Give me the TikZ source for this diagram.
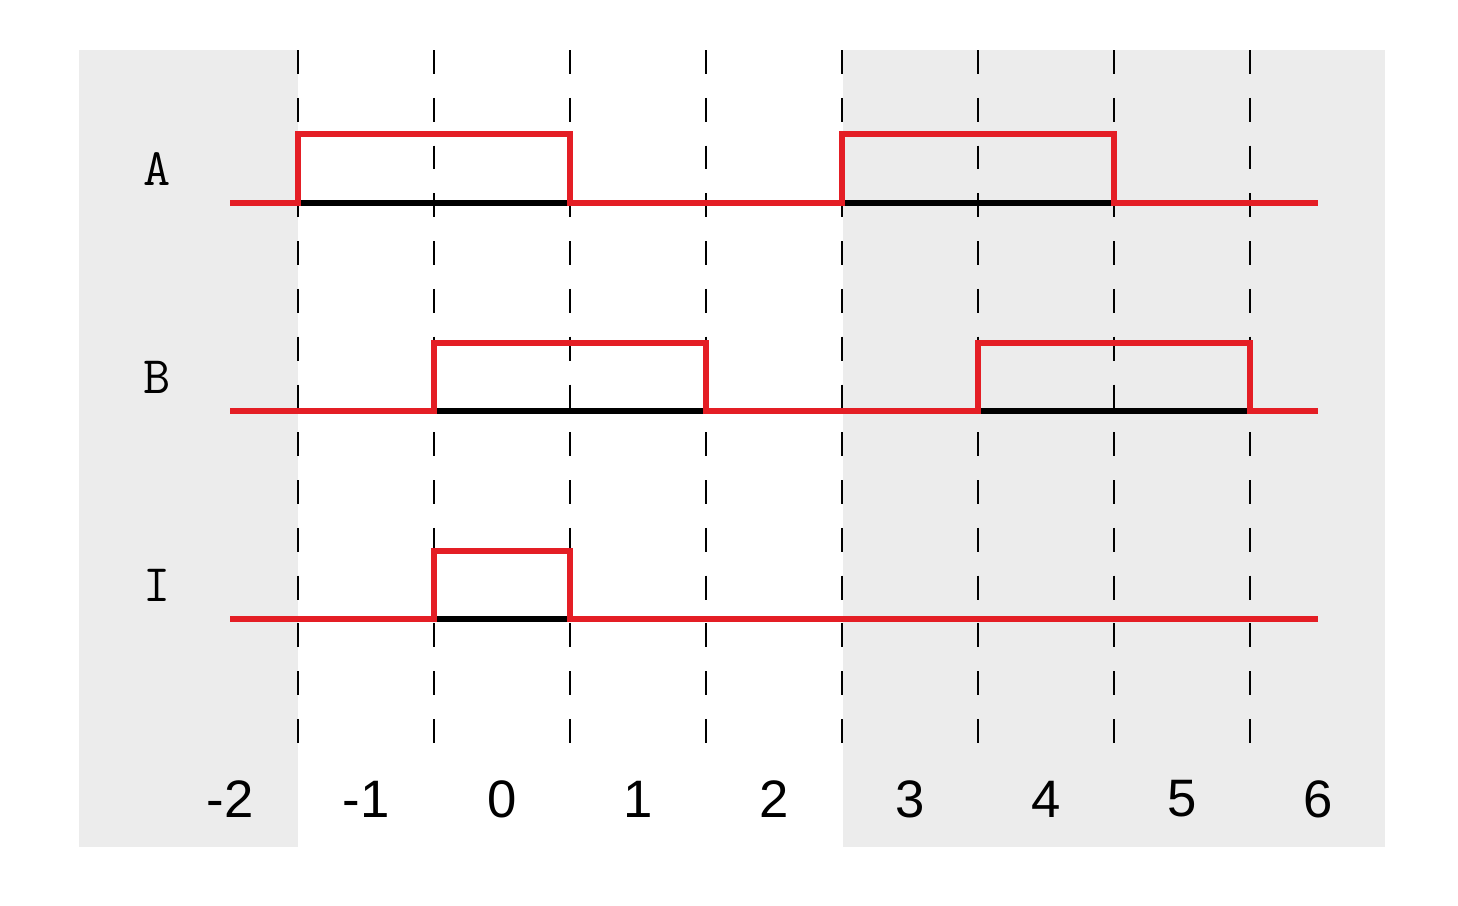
\documentclass[tikz,border=0pt]{standalone}
\usepackage{fontspec}
\setmainfont{Liberation Sans}
\begin{document}
\begin{tikzpicture}[x=0.02cm,y=-0.02cm,
  bg/.style={fill=shade,draw=none},
  grid/.style={black,line width=0.85pt,dash pattern=on 13.6pt off 13.6pt},
  wave/.style={draw=wavered,line width=3.4pt,line join=miter},
  base/.style={black,line width=3pt},
  siglabel/.style={font=\ttfamily\fontsize{30}{30}\selectfont,inner sep=0pt},
  ticklabel/.style={font=\fontsize{30}{30}\selectfont,inner sep=0pt}]
\definecolor{shade}{HTML}{ECECEC}
\definecolor{wavered}{HTML}{E41E25}
\useasboundingbox (0,0) rectangle (1458,906);
\fill[white] (0,0) rectangle (1458,906);
\fill[bg] (79,50) rectangle (298,847);
\fill[bg] (843,50) rectangle (1385,847);
% dashed grid
\foreach \gx in {298,434,570,706,842,978,1114,1250}
  \draw[grid] (\gx,50) -- (\gx,746);
% waveforms
\draw[wave] (230,203) -- (298,203) -- (298,134) -- (570,134) -- (570,203) -- (842,203) -- (842,134) -- (1114,134) -- (1114,203) -- (1318,203);
\draw[wave] (230,411) -- (434,411) -- (434,343) -- (706,343) -- (706,411) -- (978,411) -- (978,343) -- (1250,343) -- (1250,411) -- (1318,411);
\draw[wave] (230,619) -- (434,619) -- (434,551) -- (570,551) -- (570,619) -- (1318,619);
% black segments inside the pulses
\draw[base] (301,203) -- (567,203);
\draw[base] (845,203) -- (1111,203);
\draw[base] (437,411) -- (703,411);
\draw[base] (981,411) -- (1247,411);
\draw[base] (437,619) -- (567,619);
% signal labels
\node[siglabel] (labA) at (157,169) {A};
\node[siglabel] (labB) at (157,377) {B};
\node[siglabel] (labI) at (157,585) {I};
% tick labels
\node[ticklabel] (tm2) at (230,799) {-2};
\node[ticklabel] (tm1) at (366,799) {-1};
\node[ticklabel] (t0) at (502,799) {0};
\node[ticklabel] (t1) at (638,799) {1};
\node[ticklabel] (t2) at (774,799) {2};
\node[ticklabel] (t3) at (910,799) {3};
\node[ticklabel] (t4) at (1046,799) {4};
\node[ticklabel] (t5) at (1182,799) {5};
\node[ticklabel] (t6) at (1318,799) {6};
\end{tikzpicture}
\end{document}
